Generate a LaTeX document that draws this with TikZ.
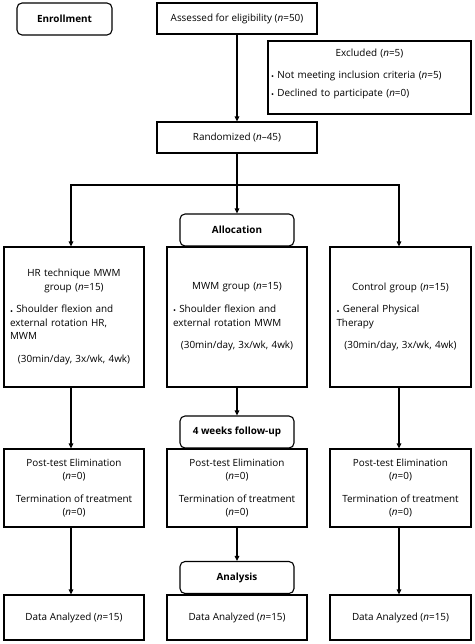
\documentclass[tikz,border=0pt]{standalone}
\usepackage{fontspec}
\setmainfont{Open Sans}
\usetikzlibrary{arrows.meta,positioning}

\newcommand{\bul}{\raisebox{-.25ex}{\footnotesize\textbullet}\ }

\begin{document}
\begin{tikzpicture}[x=1pt, y=-1pt, font=\fontsize{9.9}{13.6}\selectfont,
  box/.style = {draw, line width=1.1pt, inner sep=2pt, align=center},
  group/.style = {draw, line width=1.1pt, inner sep=0pt, minimum height=140pt},
  stage/.style = {draw, line width=1.1pt, rounded corners=5pt, minimum width=114pt, minimum height=32pt, font=\fontsize{9.9}{13.6}\selectfont\bfseries},
  arr/.style = {-{Triangle[length=5pt, width=4.5pt]}, line width=1.1pt}]

  \useasboundingbox (0,0) rectangle (474,644);

  % enrollment
  \node[stage, minimum width=95pt] (enrol) at (64.5,19) {Enrollment};
  \node[box, minimum width=160pt, minimum height=31pt] (assess) at (237,18.5) {Assessed for eligibility (\textit{n}=50)};
  \node[box, minimum width=203pt, minimum height=73pt, text width=197pt, align=left] (excl) at (369.5,77.5)
    {\makebox[197pt]{Excluded (\textit{n}=5)}\\[8pt]
     \bul Not meeting inclusion criteria (\textit{n}=5)\\[4pt]
     \bul Declined to participate (\textit{n}=0)\\[-4pt]\mbox{}};
  \node[box, minimum width=160pt, minimum height=31pt] (rand) at (237,137.5) {Randomized (\textit{n}–45)};
  \coordinate (split) at (237,185);

  % allocation
  \node[stage] (alloc) at (237,230) {Allocation};
  \node[group, minimum width=140pt, text width=128pt] (grpA) at (74,317)
    {\centering HR technique MWM\\group (\textit{n}=15)\par\vspace{9pt}
     \raggedright\bul Shoulder flexion and\\external rotation HR,\\MWM\par\vspace{9pt}
     \centering (30min/day, 3x/wk, 4wk)\par};
  \node[group, minimum width=140pt, text width=128pt] (grpB) at (237,317)
    {\centering MWM group (\textit{n}=15)\par\vspace{9pt}
     \raggedright\bul Shoulder flexion and\\external rotation MWM\par\vspace{9pt}
     \centering (30min/day, 3x/wk, 4wk)\par\vspace{14pt}};
  \node[group, minimum width=141pt, text width=128pt] (grpC) at (400.5,317)
    {\centering Control group (\textit{n}=15)\par\vspace{9pt}
     \raggedright\bul General Physical\\Therapy\par\vspace{9pt}
     \centering (30min/day, 3x/wk, 4wk)\par\vspace{14pt}};

  % follow-up
  \node[stage] (follow) at (237,432) {4 weeks follow-up};
  \node[box, minimum width=140pt, minimum height=78pt] (postA) at (74,488)
    {Post-test Elimination\\(\textit{n}=0)\\[9pt]Termination of treatment\\(\textit{n}=0)};
  \node[box, minimum width=140pt, minimum height=78pt] (postB) at (237,488)
    {Post-test Elimination\\(\textit{n}=0)\\[9pt]Termination of treatment\\(\textit{n}=0)};
  \node[box, minimum width=141pt, minimum height=78pt] (postC) at (400.5,488)
    {Post-test Elimination\\(\textit{n}=0)\\[9pt]Termination of treatment\\(\textit{n}=0)};

  % analysis
  \node[stage] (anal) at (237,577.5) {Analysis};
  \node[box, minimum width=140pt, minimum height=45pt] (dataA) at (74,617.5) {Data Analyzed (\textit{n}=15)};
  \node[box, minimum width=140pt, minimum height=45pt] (dataB) at (237,617.5) {Data Analyzed (\textit{n}=15)};
  \node[box, minimum width=141pt, minimum height=45pt] (dataC) at (400.5,617.5) {Data Analyzed (\textit{n}=15)};

  \draw[arr] (assess) -- (rand);
  \draw[line width=1.1pt] (rand) -- (split);
  \draw[arr] (split) -- (alloc);
  \draw[arr] (split) -| ([xshift=-3pt]grpA.north);
  \draw[arr] (split) -| ([xshift=-1.5pt]grpC.north);
  \draw[arr] ([xshift=-3pt]grpA.south) -- ([xshift=-3pt]postA.north);
  \draw[arr] (grpB) -- (follow);
  \draw[arr] ([xshift=-1.5pt]grpC.south) -- ([xshift=-1.5pt]postC.north);
  \draw[arr] ([xshift=-3pt]postA.south) -- ([xshift=-3pt]dataA.north);
  \draw[arr] (postB) -- (anal);
  \draw[arr] ([xshift=-1.5pt]postC.south) -- ([xshift=-1.5pt]dataC.north);
\end{tikzpicture}
\end{document}
